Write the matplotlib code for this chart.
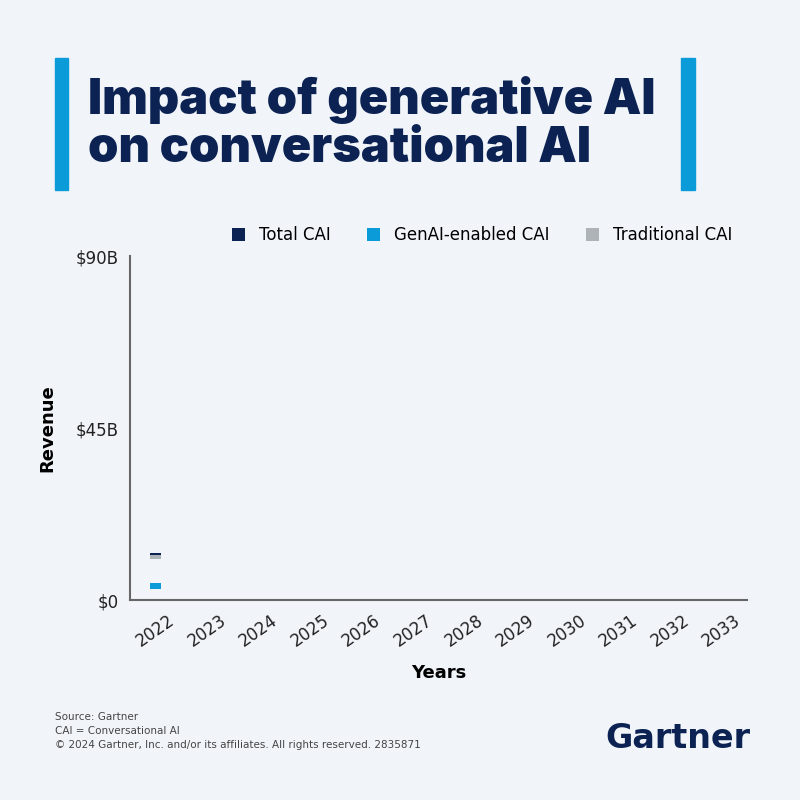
import matplotlib
matplotlib.use("Agg")
import matplotlib.pyplot as plt
from matplotlib.patches import Rectangle

years = [2022, 2023, 2024, 2025, 2026, 2027, 2028, 2029, 2030, 2031, 2032, 2033]
total_years = [2022]
total_cai = [11.8]
traditional_cai = [11.3]
genai_cai = [3.9]
yticks = [0, 45, 90]
ytick_labels = ["$0", "$45B", "$90B"]

BG = "#f1f5fa"
NAVY = "#0b2252"
BLUE = "#0b9bd8"
GRAY = "#aeb3b8"

fig = plt.figure(figsize=(8, 8), dpi=100, facecolor=BG)
fig.patches.append(Rectangle((55/800, 1-190/800), 13/800, 132/800, transform=fig.transFigure, color=BLUE))
fig.patches.append(Rectangle((681/800, 1-190/800), 14/800, 132/800, transform=fig.transFigure, color=BLUE))
fig.text(88/800, 1-124/800, "Impact of generative AI\non conversational AI", fontsize=35, fontweight="black",
         color=NAVY, va="center", ha="left", linespacing=1.05, family="Inter")

ax = fig.add_axes([130/800, 200/800, 617/800, 344/800], facecolor=BG)
ax.set_xlim(2021.5, 2033.5)
ax.set_ylim(0, 90)
w, h = 0.22, 0.9
ax.bar(total_years, [h]*len(total_years), bottom=[v - h/2 for v in total_cai], width=w, color=NAVY, label="Total CAI")
ax.bar(total_years, [h*1.5]*len(total_years), bottom=[v - h for v in genai_cai], width=w, color=BLUE, label="GenAI-enabled CAI")
ax.bar(total_years, [h]*len(total_years), bottom=[v - h/2 for v in traditional_cai], width=w, color=GRAY, label="Traditional CAI")
ax.set_xticks(years)
ax.set_xticklabels([str(y) for y in years], rotation=35, fontsize=12, color="#222")
ax.set_yticks(yticks)
ax.set_yticklabels(ytick_labels, fontsize=12, color="#222")
ax.tick_params(length=0, pad=8)
for s in ["top", "right"]:
    ax.spines[s].set_visible(False)
ax.spines["left"].set_color("#666")
ax.spines["bottom"].set_color("#666")
ax.spines["left"].set_linewidth(1.5)
ax.spines["bottom"].set_linewidth(1.5)
ax.set_xlabel("Years", fontsize=13, fontweight="bold", labelpad=10)
ax.set_ylabel("Revenue", fontsize=13, fontweight="bold", labelpad=14)
leg = ax.legend(loc="lower right", bbox_to_anchor=(1.0, 0.99), ncol=3, frameon=False, fontsize=12,
                handlelength=0.8, handleheight=0.8, columnspacing=2.2, handletextpad=0.8)

fig.text(55/800, 1-731/800, "Source: Gartner\nCAI = Conversational AI\n© 2024 Gartner, Inc. and/or its affiliates. All rights reserved. 2835871",
         fontsize=7.5, color="#444", va="center", linespacing=1.5)
fig.text(750/800, 1-738/800, "Gartner", fontsize=24, fontweight="bold", color=NAVY, ha="right", va="center")
fig.savefig("out.png", dpi=100, facecolor=BG)
